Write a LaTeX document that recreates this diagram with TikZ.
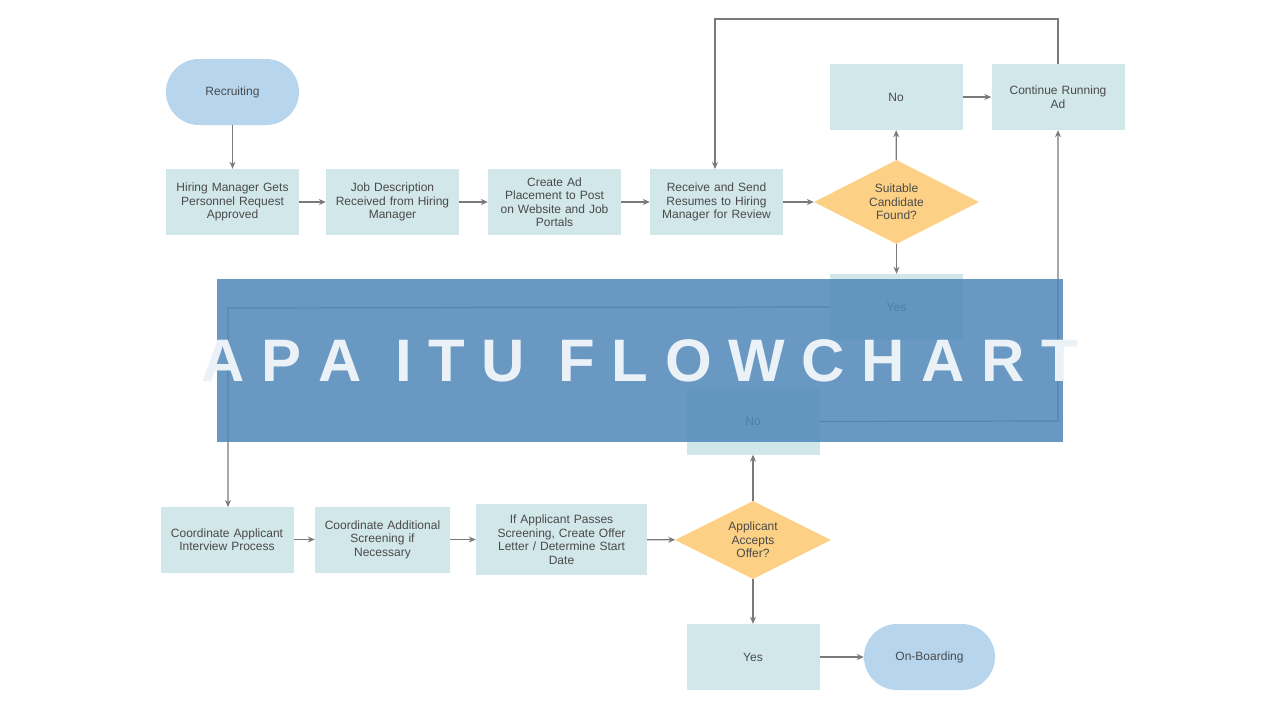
\documentclass[tikz,border=0pt]{standalone}
\usepackage{fontspec}
\setmainfont{Liberation Sans}
\usetikzlibrary{shapes.geometric,arrows.meta}
\definecolor{boxc}{HTML}{D2E7E9}
\definecolor{termc}{HTML}{B7D6EE}
\definecolor{decc}{HTML}{FCD185}
\definecolor{txtc}{HTML}{4A4A4A}
\definecolor{linec}{HTML}{7A7A7A}
\definecolor{banc}{HTML}{4F87B8}
\begin{document}
\begin{tikzpicture}[x=1pt,y=-1pt,
  every node/.style={font=\fontsize{12}{13.5}\selectfont,text=txtc,align=center,inner sep=2pt},
  box/.style={fill=boxc,minimum width=133pt,minimum height=66pt,text width=120pt},
  term/.style={fill=termc,rounded corners=33pt,minimum width=133pt,minimum height=66pt},
  dec/.style={diamond,fill=decc,aspect=2,minimum width=165pt,minimum height=84pt,text width=70pt,inner sep=0pt},
  ar/.style={draw=linec,line width=1.2pt,-{Stealth[length=7pt,width=6pt]}}]
\useasboundingbox (0,0) rectangle (1280,720);
\fill[white] (0,0) rectangle (1280,720);
\node[term] (rec) at (232.5,92) {Recruiting};
\node[box] (b1) at (232.5,202) {Hiring Manager Gets\\Personnel Request\\Approved};
\node[box] (b2) at (392.5,202) {Job Description\\Received from Hiring\\Manager};
\node[box] (b3) at (554.5,202) {Create Ad\\Placement to Post\\on Website and Job\\Portals};
\node[box] (b4) at (716.5,202) {Receive and Send\\Resumes to Hiring\\Manager for Review};
\node[dec] (d1) at (896.5,202) {Suitable\\Candidate\\Found?};
\node[box] (no1) at (896,97) {No};
\node[box] (cont) at (1058,97) {Continue Running\\Ad};
\node[box] (yes1) at (896.5,307) {Yes};
\node[box] (no2) at (753,421.5) {No};
\node[box,minimum width=133pt] (c1) at (227,539.5) {Coordinate Applicant\\Interview Process};
\node[box,minimum width=135pt] (c2) at (382.5,539.5) {Coordinate Additional\\Screening if\\Necessary};
\node[box,minimum width=171pt,minimum height=71pt,text width=150pt] (c3) at (561.5,539.5) {If Applicant Passes\\Screening, Create Offer\\Letter / Determine Start\\Date};
\node[dec,minimum width=156pt,minimum height=78pt] (d2) at (753,540) {Applicant\\Accepts\\Offer?};
\node[box] (yes2) at (753,657) {Yes};
\node[term,minimum width=131pt] (onb) at (929.5,657) {On-Boarding};
\draw[ar] (rec) -- (b1);
\draw[ar] (b1) -- (b2);
\draw[ar] (b2) -- (b3);
\draw[ar] (b3) -- (b4);
\draw[ar] (b4) -- (d1);
\draw[ar] (d1) -- (no1);
\draw[ar] (d1) -- (yes1);
\draw[ar] (no1) -- (cont);
\draw[ar] (cont.north) -- (1058,19) -- (715,19) -- (715,169);
\draw[ar] (yes1.west) -- (228,308) -- (228,507);
\draw[ar] (c1) -- (c2);
\draw[ar] (c2) -- (c3);
\draw[ar] (c3) -- (d2);
\draw[ar] (d2) -- (no2);
\draw[ar] (d2) -- (yes2);
\draw[ar] (yes2) -- (onb);
\draw[ar] (no2.east) -- (1058,421) -- (cont.south);
\fill[banc,opacity=0.85] (217,279) rectangle (1063,442);
\node[font=\fontsize{60}{60}\bfseries\selectfont,text=white!88!banc,inner sep=0pt] (title) at (640,361) {A P A\ \ I T U\ \ F L O W C H A R T};
\end{tikzpicture}
\end{document}
